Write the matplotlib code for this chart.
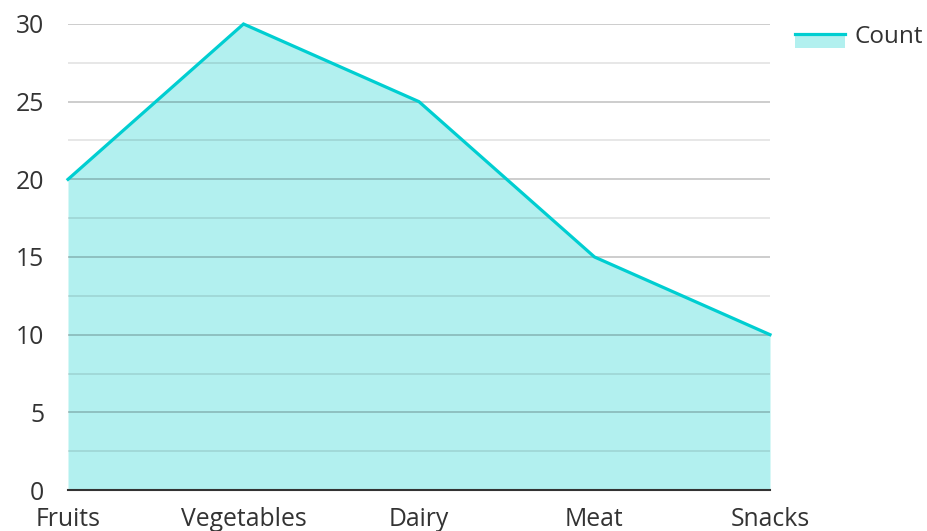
import matplotlib
matplotlib.use("Agg")
import matplotlib.pyplot as plt
from matplotlib.legend_handler import HandlerBase
from matplotlib.patches import Rectangle
from matplotlib.lines import Line2D
from matplotlib.ticker import MultipleLocator

categories = ["Fruits", "Vegetables", "Dairy", "Meat", "Snacks"]
counts = [20, 30, 25, 15, 10]
series_name = "Count"

line_color = "#00CED1"
fill_color = "#b2f0ef"

plt.rcParams['font.family'] = ['Open Sans', 'DejaVu Sans']

fig = plt.figure(figsize=(9.28, 5.31), dpi=100)
ax = fig.add_axes([68/928, 1-490/531, (770-68)/928, (490-24)/531])

x = list(range(len(categories)))
ax.fill_between(x, counts, 0, color=fill_color, linewidth=0, zorder=1)
ln, = ax.plot(x, counts, color=line_color, linewidth=2.3, zorder=3,
              solid_joinstyle='miter', clip_on=False)

ax.set_xlim(0, len(categories) - 1)
ax.set_ylim(0, 30)
ax.yaxis.set_major_locator(MultipleLocator(5))
ax.yaxis.set_minor_locator(MultipleLocator(2.5))
ax.grid(True, which='major', axis='y', color='black', alpha=0.21, linewidth=1.3, zorder=2)
ax.grid(True, which='minor', axis='y', color='black', alpha=0.1, linewidth=1.3, zorder=2)
ax.set_axisbelow(False)

ax.set_xticks(x)
ax.set_xticklabels(categories)
ax.tick_params(axis='both', which='both', length=0, labelsize=17.8, labelcolor='#333333')
ax.tick_params(axis='y', pad=17)
ax.tick_params(axis='x', pad=12)

for s in ['top', 'right', 'left']:
    ax.spines[s].set_visible(False)
ax.spines['bottom'].set_color('#333333')
ax.spines['bottom'].set_linewidth(1.5)
ax.spines['bottom'].set_zorder(4)


class AreaHandler(HandlerBase):
    def create_artists(self, legend, orig_handle, xdescent, ydescent, width, height, fontsize, trans):
        top = -ydescent + height * 0.55
        bottom = -ydescent - height * 0.4
        r = Rectangle((-xdescent, bottom), width, top - bottom, facecolor=fill_color,
                      edgecolor='none', transform=trans)
        l = Line2D([-xdescent, -xdescent + width], [top, top],
                   color=line_color, linewidth=2.3, transform=trans)
        return [r, l]


leg = fig.legend([ln], [series_name], handler_map={ln: AreaHandler()},
                 loc='center left', bbox_to_anchor=(795/928, 1-37/531),
                 frameon=False, fontsize=17.5, handlelength=2.05, handleheight=0.6,
                 handletextpad=0.4, labelcolor='#333333', borderpad=0, borderaxespad=0)

fig.savefig("out.png", dpi=100)
